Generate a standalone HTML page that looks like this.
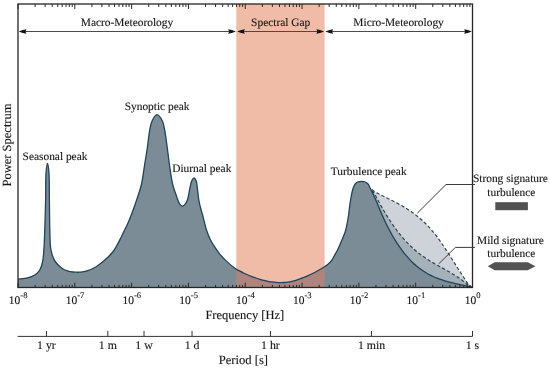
<!DOCTYPE html>
<html><head><meta charset="utf-8"><style>
html,body{margin:0;padding:0;background:#fff;}
svg{display:block;}
text{text-rendering:geometricPrecision;font-family:"Liberation Serif","Times New Roman",serif;fill:#161616;stroke:#161616;stroke-width:0.12px;}
.tl{font-size:11.5px;}
.pl{font-size:11.8px;}
.lab{font-size:11.4px;}
</style></head><body>
<svg width="550" height="370" viewBox="0 0 550 370">
<defs><clipPath id="gap"><rect x="236.3" y="0" width="88.30" height="370"/></clipPath></defs>
<rect x="236.3" y="4.0" width="88.30" height="283.5" fill="#f0bca8"/>
<path d="M371.80,189.60 C372.87,190.38 373.93,191.27 375.00,191.94 C375.99,192.56 377.00,193.00 378.00,193.52 C379.00,194.04 380.00,194.55 381.00,195.06 C382.00,195.56 383.00,196.06 384.00,196.56 C385.00,197.05 386.00,197.55 387.00,198.04 C388.00,198.53 389.00,199.03 390.00,199.52 C391.00,200.02 392.00,200.52 393.00,201.03 C394.00,201.54 395.00,202.05 396.00,202.57 C397.00,203.09 398.00,203.62 399.00,204.17 C400.00,204.71 401.00,205.27 402.00,205.84 C403.00,206.41 404.00,207.00 405.00,207.60 C406.00,208.21 407.00,208.83 408.00,209.47 C409.00,210.12 410.01,210.79 411.00,211.47 C412.01,212.17 413.01,212.88 414.00,213.62 C415.01,214.37 416.01,215.14 417.00,215.93 C418.01,216.74 419.01,217.57 420.00,218.43 C421.01,219.30 422.01,220.20 423.00,221.12 C424.01,222.07 425.01,223.04 426.00,224.04 C427.01,225.06 428.01,226.11 429.00,227.19 C430.01,228.29 431.01,229.43 432.00,230.59 C433.01,231.79 434.01,233.01 435.00,234.27 C436.01,235.56 437.01,236.88 438.00,238.22 C439.01,239.59 440.01,240.99 441.00,242.41 C442.01,243.85 443.01,245.31 444.00,246.79 C445.01,248.28 446.00,249.80 447.00,251.32 C448.00,252.86 449.00,254.41 450.00,255.96 C451.00,257.53 452.00,259.10 453.00,260.68 C454.00,262.25 455.00,263.84 456.00,265.42 C457.00,266.99 458.00,268.57 459.00,270.14 C460.00,271.70 461.00,273.26 462.00,274.81 C463.00,276.34 463.99,277.87 465.00,279.38 C465.99,280.87 466.92,282.50 468.00,283.81 C469.00,285.02 470.13,285.94 471.20,287.00 L372,287.5 Z" fill="#ced3da"/>
<path d="M372.20,190.40 C373.29,192.11 374.45,193.76 375.48,195.53 C376.54,197.35 377.46,199.34 378.47,201.21 C379.45,203.03 380.45,204.84 381.45,206.61 C382.44,208.35 383.43,210.07 384.44,211.75 C385.42,213.40 386.42,215.03 387.42,216.63 C388.41,218.20 389.40,219.74 390.41,221.25 C391.39,222.74 392.39,224.20 393.39,225.63 C394.38,227.03 395.37,228.40 396.38,229.75 C397.36,231.07 398.35,232.36 399.36,233.63 C400.34,234.87 401.34,236.09 402.34,237.27 C403.33,238.43 404.32,239.57 405.33,240.67 C406.31,241.76 407.31,242.82 408.31,243.85 C409.30,244.86 410.29,245.84 411.30,246.79 C412.28,247.73 413.28,248.64 414.28,249.52 C415.27,250.38 416.26,251.22 417.27,252.03 C418.25,252.83 419.25,253.60 420.25,254.36 C421.24,255.10 422.23,255.82 423.23,256.52 C424.22,257.21 425.22,257.88 426.22,258.54 C427.21,259.19 428.20,259.82 429.20,260.44 C430.19,261.06 431.19,261.65 432.19,262.25 C433.18,262.84 434.18,263.41 435.17,263.98 C436.16,264.55 437.16,265.11 438.16,265.67 C439.15,266.22 440.15,266.77 441.14,267.33 C442.14,267.88 443.13,268.43 444.12,268.99 C445.12,269.54 446.12,270.10 447.11,270.67 C448.11,271.23 449.10,271.80 450.09,272.39 C451.09,272.98 452.09,273.57 453.08,274.18 C454.08,274.79 455.07,275.42 456.06,276.06 C457.06,276.71 458.06,277.37 459.05,278.05 C460.05,278.74 461.04,279.45 462.03,280.18 C463.03,280.92 464.03,281.68 465.02,282.47 C466.02,283.27 466.96,284.19 468.00,284.94 C469.03,285.69 470.13,286.31 471.20,287.00 L372,287.5 Z" fill="#a5b1b9"/>
<path d="M18.00,279.20 C20.27,278.93 22.56,278.83 24.80,278.40 C27.06,277.97 29.43,277.44 31.50,276.60 C33.45,275.81 35.42,274.90 36.90,273.60 C38.33,272.35 39.41,270.71 40.30,269.00 C41.24,267.20 41.79,265.10 42.30,263.00 C42.84,260.78 43.09,258.82 43.40,256.00 C43.86,251.76 44.10,246.54 44.40,240.00 C44.88,229.67 45.31,212.15 45.60,200.00 C45.84,189.84 45.50,178.64 46.10,172.00 C46.43,168.30 47.03,163.40 47.50,163.40 C47.97,163.40 48.57,168.30 48.90,172.00 C49.50,178.64 49.25,190.51 49.40,200.00 C49.55,209.83 49.58,221.59 49.80,230.00 C49.96,236.10 50.04,241.92 50.40,245.80 C50.61,248.08 50.81,249.41 51.20,251.20 C51.60,253.01 52.10,254.83 52.80,256.60 C53.52,258.43 54.34,260.37 55.50,262.00 C56.67,263.64 58.27,265.10 59.80,266.40 C61.28,267.66 63.07,268.97 64.50,269.72 C65.56,270.28 66.48,270.50 67.47,270.81 C68.46,271.10 69.45,271.34 70.45,271.54 C71.44,271.73 72.43,271.88 73.42,271.99 C74.41,272.11 75.41,272.18 76.40,272.21 C77.39,272.24 78.38,272.23 79.38,272.17 C80.37,272.11 81.36,272.01 82.35,271.86 C83.35,271.71 84.34,271.52 85.33,271.28 C86.32,271.03 87.32,270.74 88.30,270.40 C89.30,270.06 90.29,269.66 91.28,269.23 C92.28,268.78 93.27,268.28 94.25,267.73 C95.25,267.18 96.25,266.57 97.22,265.92 C98.23,265.25 99.22,264.52 100.20,263.78 C101.20,263.02 102.19,262.21 103.18,261.39 C104.17,260.56 105.17,259.71 106.15,258.83 C107.15,257.94 108.15,257.05 109.12,256.06 C110.14,255.02 111.14,253.94 112.10,252.75 C113.13,251.46 114.12,250.04 115.08,248.55 C116.11,246.94 117.08,245.17 118.05,243.37 C119.07,241.48 120.04,239.45 121.03,237.44 C122.03,235.38 122.99,233.25 124.00,231.18 C125.01,229.10 125.98,227.46 127.10,225.00 C128.69,221.49 130.72,216.44 132.40,212.00 C134.13,207.44 135.79,202.59 137.30,198.00 C138.75,193.60 140.16,189.84 141.30,185.00 C142.69,179.09 143.56,171.40 144.60,165.00 C145.55,159.10 146.45,153.78 147.30,148.00 C148.19,141.99 148.80,134.56 149.80,129.60 C150.49,126.17 150.84,123.53 152.10,121.00 C153.29,118.60 155.30,114.74 157.00,114.70 C158.73,114.66 161.14,118.57 162.40,121.00 C163.71,123.51 163.91,126.17 164.60,129.60 C165.60,134.56 166.47,141.98 167.30,148.00 C168.10,153.78 168.63,159.11 169.50,165.00 C170.44,171.40 171.47,179.64 172.80,185.00 C173.72,188.73 174.94,191.46 175.90,194.30 C176.72,196.72 177.37,199.14 178.20,201.00 C178.83,202.42 179.37,203.73 180.20,204.60 C180.89,205.32 181.80,206.12 182.60,206.10 C183.43,206.08 184.37,205.22 185.10,204.40 C186.04,203.35 186.72,201.88 187.40,200.00 C188.45,197.07 189.12,191.60 189.90,188.20 C190.50,185.59 190.76,183.14 191.60,181.30 C192.24,179.89 193.22,177.90 194.00,177.90 C194.75,177.90 195.69,179.78 196.20,181.00 C196.79,182.41 196.85,184.33 197.10,186.00 C197.35,187.66 197.49,189.26 197.70,191.00 C197.93,192.91 198.14,195.09 198.40,197.00 C198.64,198.75 198.86,200.26 199.20,202.00 C199.58,203.92 200.06,205.93 200.60,208.00 C201.18,210.25 201.98,212.66 202.60,215.00 C203.21,217.33 203.65,219.51 204.30,222.00 C205.05,224.86 205.88,228.24 206.90,231.20 C207.89,234.07 208.96,236.82 210.30,239.50 C211.66,242.22 213.35,244.89 215.00,247.40 C216.59,249.82 218.22,252.12 220.00,254.30 C221.76,256.45 223.40,258.30 225.60,260.40 C228.32,263.00 232.57,266.61 235.30,268.50 C237.08,269.73 238.49,270.34 240.00,271.15 C241.38,271.90 242.66,272.57 244.00,273.22 C245.32,273.85 246.66,274.43 248.00,274.99 C249.33,275.54 250.66,276.05 252.00,276.55 C253.33,277.05 254.66,277.53 256.00,277.99 C257.33,278.44 258.66,278.87 260.00,279.27 C261.33,279.66 262.66,280.04 264.00,280.37 C265.33,280.71 266.66,281.02 268.00,281.29 C269.33,281.55 270.66,281.79 272.00,281.98 C273.33,282.17 274.66,282.32 276.00,282.43 C277.33,282.54 278.67,282.60 280.00,282.62 C281.33,282.63 282.67,282.60 284.00,282.52 C285.33,282.43 286.67,282.30 288.00,282.10 C289.34,281.91 290.67,281.66 292.00,281.36 C293.34,281.06 294.67,280.70 296.00,280.30 C297.34,279.90 298.67,279.44 300.00,278.96 C301.34,278.48 302.67,277.95 304.00,277.40 C305.34,276.84 306.67,276.25 308.00,275.65 C309.34,275.04 310.67,274.42 312.00,273.77 C313.34,273.12 314.67,272.46 316.00,271.76 C317.34,271.06 318.68,270.33 320.00,269.55 C321.34,268.76 322.68,267.94 324.00,267.05 C325.35,266.14 326.74,265.24 328.00,264.16 C329.28,263.06 330.52,261.92 331.60,260.50 C332.78,258.94 333.70,256.88 334.70,255.10 C335.67,253.38 336.63,251.73 337.50,250.00 C338.37,248.27 339.06,246.61 339.90,244.70 C340.88,242.49 342.02,239.95 343.00,237.50 C343.99,235.01 345.07,232.49 345.80,229.90 C346.53,227.32 346.92,224.56 347.40,222.00 C347.85,219.60 348.23,217.55 348.60,215.00 C349.04,211.97 349.34,208.18 349.80,205.00 C350.22,202.07 350.70,199.23 351.20,196.60 C351.64,194.26 352.07,191.85 352.60,190.00 C353.00,188.60 353.38,187.51 353.90,186.40 C354.39,185.36 354.86,184.26 355.60,183.50 C356.31,182.78 357.22,182.25 358.20,181.90 C359.27,181.52 360.62,181.38 361.80,181.40 C362.95,181.42 364.18,181.58 365.20,182.00 C366.17,182.40 367.06,183.00 367.80,183.80 C368.63,184.69 369.21,186.06 369.80,187.20 C370.37,188.29 370.73,189.32 371.30,190.50 C371.97,191.89 372.74,193.18 373.60,195.00 C374.87,197.71 376.62,202.03 378.00,205.27 C379.23,208.18 380.30,210.86 381.48,213.57 C382.62,216.18 383.78,218.73 384.96,221.22 C386.10,223.62 387.26,225.97 388.44,228.25 C389.58,230.46 390.74,232.61 391.92,234.70 C393.06,236.72 394.22,238.68 395.40,240.59 C396.55,242.43 397.70,244.21 398.88,245.94 C400.03,247.62 401.19,249.24 402.37,250.80 C403.51,252.31 404.67,253.78 405.85,255.19 C406.99,256.55 408.15,257.87 409.33,259.13 C410.47,260.36 411.63,261.53 412.81,262.66 C413.95,263.75 415.11,264.80 416.29,265.80 C417.43,266.78 418.60,267.71 419.77,268.59 C420.92,269.46 422.08,270.28 423.25,271.05 C424.40,271.82 425.56,272.54 426.73,273.22 C427.88,273.89 429.04,274.52 430.21,275.11 C431.36,275.70 432.53,276.25 433.69,276.77 C434.85,277.28 436.01,277.76 437.17,278.21 C438.33,278.66 439.49,279.08 440.65,279.47 C441.81,279.87 442.97,280.23 444.13,280.58 C445.29,280.93 446.45,281.25 447.62,281.57 C448.77,281.88 449.93,282.17 451.10,282.46 C452.26,282.74 453.42,283.01 454.58,283.28 C455.74,283.55 456.90,283.81 458.06,284.07 C459.22,284.33 460.38,284.58 461.54,284.85 C462.70,285.11 463.86,285.37 465.02,285.65 C466.18,285.92 467.30,286.24 468.50,286.50 C469.78,286.77 471.17,286.97 472.50,287.20 L472.5,287.5 L18,287.5 Z" fill="#7b8c96"/>
<path d="M18.00,279.20 C20.27,278.93 22.56,278.83 24.80,278.40 C27.06,277.97 29.43,277.44 31.50,276.60 C33.45,275.81 35.42,274.90 36.90,273.60 C38.33,272.35 39.41,270.71 40.30,269.00 C41.24,267.20 41.79,265.10 42.30,263.00 C42.84,260.78 43.09,258.82 43.40,256.00 C43.86,251.76 44.10,246.54 44.40,240.00 C44.88,229.67 45.31,212.15 45.60,200.00 C45.84,189.84 45.50,178.64 46.10,172.00 C46.43,168.30 47.03,163.40 47.50,163.40 C47.97,163.40 48.57,168.30 48.90,172.00 C49.50,178.64 49.25,190.51 49.40,200.00 C49.55,209.83 49.58,221.59 49.80,230.00 C49.96,236.10 50.04,241.92 50.40,245.80 C50.61,248.08 50.81,249.41 51.20,251.20 C51.60,253.01 52.10,254.83 52.80,256.60 C53.52,258.43 54.34,260.37 55.50,262.00 C56.67,263.64 58.27,265.10 59.80,266.40 C61.28,267.66 63.07,268.97 64.50,269.72 C65.56,270.28 66.48,270.50 67.47,270.81 C68.46,271.10 69.45,271.34 70.45,271.54 C71.44,271.73 72.43,271.88 73.42,271.99 C74.41,272.11 75.41,272.18 76.40,272.21 C77.39,272.24 78.38,272.23 79.38,272.17 C80.37,272.11 81.36,272.01 82.35,271.86 C83.35,271.71 84.34,271.52 85.33,271.28 C86.32,271.03 87.32,270.74 88.30,270.40 C89.30,270.06 90.29,269.66 91.28,269.23 C92.28,268.78 93.27,268.28 94.25,267.73 C95.25,267.18 96.25,266.57 97.22,265.92 C98.23,265.25 99.22,264.52 100.20,263.78 C101.20,263.02 102.19,262.21 103.18,261.39 C104.17,260.56 105.17,259.71 106.15,258.83 C107.15,257.94 108.15,257.05 109.12,256.06 C110.14,255.02 111.14,253.94 112.10,252.75 C113.13,251.46 114.12,250.04 115.08,248.55 C116.11,246.94 117.08,245.17 118.05,243.37 C119.07,241.48 120.04,239.45 121.03,237.44 C122.03,235.38 122.99,233.25 124.00,231.18 C125.01,229.10 125.98,227.46 127.10,225.00 C128.69,221.49 130.72,216.44 132.40,212.00 C134.13,207.44 135.79,202.59 137.30,198.00 C138.75,193.60 140.16,189.84 141.30,185.00 C142.69,179.09 143.56,171.40 144.60,165.00 C145.55,159.10 146.45,153.78 147.30,148.00 C148.19,141.99 148.80,134.56 149.80,129.60 C150.49,126.17 150.84,123.53 152.10,121.00 C153.29,118.60 155.30,114.74 157.00,114.70 C158.73,114.66 161.14,118.57 162.40,121.00 C163.71,123.51 163.91,126.17 164.60,129.60 C165.60,134.56 166.47,141.98 167.30,148.00 C168.10,153.78 168.63,159.11 169.50,165.00 C170.44,171.40 171.47,179.64 172.80,185.00 C173.72,188.73 174.94,191.46 175.90,194.30 C176.72,196.72 177.37,199.14 178.20,201.00 C178.83,202.42 179.37,203.73 180.20,204.60 C180.89,205.32 181.80,206.12 182.60,206.10 C183.43,206.08 184.37,205.22 185.10,204.40 C186.04,203.35 186.72,201.88 187.40,200.00 C188.45,197.07 189.12,191.60 189.90,188.20 C190.50,185.59 190.76,183.14 191.60,181.30 C192.24,179.89 193.22,177.90 194.00,177.90 C194.75,177.90 195.69,179.78 196.20,181.00 C196.79,182.41 196.85,184.33 197.10,186.00 C197.35,187.66 197.49,189.26 197.70,191.00 C197.93,192.91 198.14,195.09 198.40,197.00 C198.64,198.75 198.86,200.26 199.20,202.00 C199.58,203.92 200.06,205.93 200.60,208.00 C201.18,210.25 201.98,212.66 202.60,215.00 C203.21,217.33 203.65,219.51 204.30,222.00 C205.05,224.86 205.88,228.24 206.90,231.20 C207.89,234.07 208.96,236.82 210.30,239.50 C211.66,242.22 213.35,244.89 215.00,247.40 C216.59,249.82 218.22,252.12 220.00,254.30 C221.76,256.45 223.40,258.30 225.60,260.40 C228.32,263.00 232.57,266.61 235.30,268.50 C237.08,269.73 238.49,270.34 240.00,271.15 C241.38,271.90 242.66,272.57 244.00,273.22 C245.32,273.85 246.66,274.43 248.00,274.99 C249.33,275.54 250.66,276.05 252.00,276.55 C253.33,277.05 254.66,277.53 256.00,277.99 C257.33,278.44 258.66,278.87 260.00,279.27 C261.33,279.66 262.66,280.04 264.00,280.37 C265.33,280.71 266.66,281.02 268.00,281.29 C269.33,281.55 270.66,281.79 272.00,281.98 C273.33,282.17 274.66,282.32 276.00,282.43 C277.33,282.54 278.67,282.60 280.00,282.62 C281.33,282.63 282.67,282.60 284.00,282.52 C285.33,282.43 286.67,282.30 288.00,282.10 C289.34,281.91 290.67,281.66 292.00,281.36 C293.34,281.06 294.67,280.70 296.00,280.30 C297.34,279.90 298.67,279.44 300.00,278.96 C301.34,278.48 302.67,277.95 304.00,277.40 C305.34,276.84 306.67,276.25 308.00,275.65 C309.34,275.04 310.67,274.42 312.00,273.77 C313.34,273.12 314.67,272.46 316.00,271.76 C317.34,271.06 318.68,270.33 320.00,269.55 C321.34,268.76 322.68,267.94 324.00,267.05 C325.35,266.14 326.74,265.24 328.00,264.16 C329.28,263.06 330.52,261.92 331.60,260.50 C332.78,258.94 333.70,256.88 334.70,255.10 C335.67,253.38 336.63,251.73 337.50,250.00 C338.37,248.27 339.06,246.61 339.90,244.70 C340.88,242.49 342.02,239.95 343.00,237.50 C343.99,235.01 345.07,232.49 345.80,229.90 C346.53,227.32 346.92,224.56 347.40,222.00 C347.85,219.60 348.23,217.55 348.60,215.00 C349.04,211.97 349.34,208.18 349.80,205.00 C350.22,202.07 350.70,199.23 351.20,196.60 C351.64,194.26 352.07,191.85 352.60,190.00 C353.00,188.60 353.38,187.51 353.90,186.40 C354.39,185.36 354.86,184.26 355.60,183.50 C356.31,182.78 357.22,182.25 358.20,181.90 C359.27,181.52 360.62,181.38 361.80,181.40 C362.95,181.42 364.18,181.58 365.20,182.00 C366.17,182.40 367.06,183.00 367.80,183.80 C368.63,184.69 369.21,186.06 369.80,187.20 C370.37,188.29 370.73,189.32 371.30,190.50 C371.97,191.89 372.74,193.18 373.60,195.00 C374.87,197.71 376.62,202.03 378.00,205.27 C379.23,208.18 380.30,210.86 381.48,213.57 C382.62,216.18 383.78,218.73 384.96,221.22 C386.10,223.62 387.26,225.97 388.44,228.25 C389.58,230.46 390.74,232.61 391.92,234.70 C393.06,236.72 394.22,238.68 395.40,240.59 C396.55,242.43 397.70,244.21 398.88,245.94 C400.03,247.62 401.19,249.24 402.37,250.80 C403.51,252.31 404.67,253.78 405.85,255.19 C406.99,256.55 408.15,257.87 409.33,259.13 C410.47,260.36 411.63,261.53 412.81,262.66 C413.95,263.75 415.11,264.80 416.29,265.80 C417.43,266.78 418.60,267.71 419.77,268.59 C420.92,269.46 422.08,270.28 423.25,271.05 C424.40,271.82 425.56,272.54 426.73,273.22 C427.88,273.89 429.04,274.52 430.21,275.11 C431.36,275.70 432.53,276.25 433.69,276.77 C434.85,277.28 436.01,277.76 437.17,278.21 C438.33,278.66 439.49,279.08 440.65,279.47 C441.81,279.87 442.97,280.23 444.13,280.58 C445.29,280.93 446.45,281.25 447.62,281.57 C448.77,281.88 449.93,282.17 451.10,282.46 C452.26,282.74 453.42,283.01 454.58,283.28 C455.74,283.55 456.90,283.81 458.06,284.07 C459.22,284.33 460.38,284.58 461.54,284.85 C462.70,285.11 463.86,285.37 465.02,285.65 C466.18,285.92 467.30,286.24 468.50,286.50 C469.78,286.77 471.17,286.97 472.50,287.20 L472.5,287.5 L18,287.5 Z" fill="#ad857e" clip-path="url(#gap)"/>
<path d="M371.80,189.60 C372.87,190.38 373.93,191.27 375.00,191.94 C375.99,192.56 377.00,193.00 378.00,193.52 C379.00,194.04 380.00,194.55 381.00,195.06 C382.00,195.56 383.00,196.06 384.00,196.56 C385.00,197.05 386.00,197.55 387.00,198.04 C388.00,198.53 389.00,199.03 390.00,199.52 C391.00,200.02 392.00,200.52 393.00,201.03 C394.00,201.54 395.00,202.05 396.00,202.57 C397.00,203.09 398.00,203.62 399.00,204.17 C400.00,204.71 401.00,205.27 402.00,205.84 C403.00,206.41 404.00,207.00 405.00,207.60 C406.00,208.21 407.00,208.83 408.00,209.47 C409.00,210.12 410.01,210.79 411.00,211.47 C412.01,212.17 413.01,212.88 414.00,213.62 C415.01,214.37 416.01,215.14 417.00,215.93 C418.01,216.74 419.01,217.57 420.00,218.43 C421.01,219.30 422.01,220.20 423.00,221.12 C424.01,222.07 425.01,223.04 426.00,224.04 C427.01,225.06 428.01,226.11 429.00,227.19 C430.01,228.29 431.01,229.43 432.00,230.59 C433.01,231.79 434.01,233.01 435.00,234.27 C436.01,235.56 437.01,236.88 438.00,238.22 C439.01,239.59 440.01,240.99 441.00,242.41 C442.01,243.85 443.01,245.31 444.00,246.79 C445.01,248.28 446.00,249.80 447.00,251.32 C448.00,252.86 449.00,254.41 450.00,255.96 C451.00,257.53 452.00,259.10 453.00,260.68 C454.00,262.25 455.00,263.84 456.00,265.42 C457.00,266.99 458.00,268.57 459.00,270.14 C460.00,271.70 461.00,273.26 462.00,274.81 C463.00,276.34 463.99,277.87 465.00,279.38 C465.99,280.87 466.92,282.50 468.00,283.81 C469.00,285.02 470.13,285.94 471.20,287.00" fill="none" stroke="#354652" stroke-width="1.2" stroke-dasharray="3.4,2.2"/>
<path d="M372.20,190.40 C373.29,192.11 374.45,193.76 375.48,195.53 C376.54,197.35 377.46,199.34 378.47,201.21 C379.45,203.03 380.45,204.84 381.45,206.61 C382.44,208.35 383.43,210.07 384.44,211.75 C385.42,213.40 386.42,215.03 387.42,216.63 C388.41,218.20 389.40,219.74 390.41,221.25 C391.39,222.74 392.39,224.20 393.39,225.63 C394.38,227.03 395.37,228.40 396.38,229.75 C397.36,231.07 398.35,232.36 399.36,233.63 C400.34,234.87 401.34,236.09 402.34,237.27 C403.33,238.43 404.32,239.57 405.33,240.67 C406.31,241.76 407.31,242.82 408.31,243.85 C409.30,244.86 410.29,245.84 411.30,246.79 C412.28,247.73 413.28,248.64 414.28,249.52 C415.27,250.38 416.26,251.22 417.27,252.03 C418.25,252.83 419.25,253.60 420.25,254.36 C421.24,255.10 422.23,255.82 423.23,256.52 C424.22,257.21 425.22,257.88 426.22,258.54 C427.21,259.19 428.20,259.82 429.20,260.44 C430.19,261.06 431.19,261.65 432.19,262.25 C433.18,262.84 434.18,263.41 435.17,263.98 C436.16,264.55 437.16,265.11 438.16,265.67 C439.15,266.22 440.15,266.77 441.14,267.33 C442.14,267.88 443.13,268.43 444.12,268.99 C445.12,269.54 446.12,270.10 447.11,270.67 C448.11,271.23 449.10,271.80 450.09,272.39 C451.09,272.98 452.09,273.57 453.08,274.18 C454.08,274.79 455.07,275.42 456.06,276.06 C457.06,276.71 458.06,277.37 459.05,278.05 C460.05,278.74 461.04,279.45 462.03,280.18 C463.03,280.92 464.03,281.68 465.02,282.47 C466.02,283.27 466.96,284.19 468.00,284.94 C469.03,285.69 470.13,286.31 471.20,287.00" fill="none" stroke="#354652" stroke-width="1.2" stroke-dasharray="3.4,2.2"/>
<path d="M18.00,279.20 C20.27,278.93 22.56,278.83 24.80,278.40 C27.06,277.97 29.43,277.44 31.50,276.60 C33.45,275.81 35.42,274.90 36.90,273.60 C38.33,272.35 39.41,270.71 40.30,269.00 C41.24,267.20 41.79,265.10 42.30,263.00 C42.84,260.78 43.09,258.82 43.40,256.00 C43.86,251.76 44.10,246.54 44.40,240.00 C44.88,229.67 45.31,212.15 45.60,200.00 C45.84,189.84 45.50,178.64 46.10,172.00 C46.43,168.30 47.03,163.40 47.50,163.40 C47.97,163.40 48.57,168.30 48.90,172.00 C49.50,178.64 49.25,190.51 49.40,200.00 C49.55,209.83 49.58,221.59 49.80,230.00 C49.96,236.10 50.04,241.92 50.40,245.80 C50.61,248.08 50.81,249.41 51.20,251.20 C51.60,253.01 52.10,254.83 52.80,256.60 C53.52,258.43 54.34,260.37 55.50,262.00 C56.67,263.64 58.27,265.10 59.80,266.40 C61.28,267.66 63.07,268.97 64.50,269.72 C65.56,270.28 66.48,270.50 67.47,270.81 C68.46,271.10 69.45,271.34 70.45,271.54 C71.44,271.73 72.43,271.88 73.42,271.99 C74.41,272.11 75.41,272.18 76.40,272.21 C77.39,272.24 78.38,272.23 79.38,272.17 C80.37,272.11 81.36,272.01 82.35,271.86 C83.35,271.71 84.34,271.52 85.33,271.28 C86.32,271.03 87.32,270.74 88.30,270.40 C89.30,270.06 90.29,269.66 91.28,269.23 C92.28,268.78 93.27,268.28 94.25,267.73 C95.25,267.18 96.25,266.57 97.22,265.92 C98.23,265.25 99.22,264.52 100.20,263.78 C101.20,263.02 102.19,262.21 103.18,261.39 C104.17,260.56 105.17,259.71 106.15,258.83 C107.15,257.94 108.15,257.05 109.12,256.06 C110.14,255.02 111.14,253.94 112.10,252.75 C113.13,251.46 114.12,250.04 115.08,248.55 C116.11,246.94 117.08,245.17 118.05,243.37 C119.07,241.48 120.04,239.45 121.03,237.44 C122.03,235.38 122.99,233.25 124.00,231.18 C125.01,229.10 125.98,227.46 127.10,225.00 C128.69,221.49 130.72,216.44 132.40,212.00 C134.13,207.44 135.79,202.59 137.30,198.00 C138.75,193.60 140.16,189.84 141.30,185.00 C142.69,179.09 143.56,171.40 144.60,165.00 C145.55,159.10 146.45,153.78 147.30,148.00 C148.19,141.99 148.80,134.56 149.80,129.60 C150.49,126.17 150.84,123.53 152.10,121.00 C153.29,118.60 155.30,114.74 157.00,114.70 C158.73,114.66 161.14,118.57 162.40,121.00 C163.71,123.51 163.91,126.17 164.60,129.60 C165.60,134.56 166.47,141.98 167.30,148.00 C168.10,153.78 168.63,159.11 169.50,165.00 C170.44,171.40 171.47,179.64 172.80,185.00 C173.72,188.73 174.94,191.46 175.90,194.30 C176.72,196.72 177.37,199.14 178.20,201.00 C178.83,202.42 179.37,203.73 180.20,204.60 C180.89,205.32 181.80,206.12 182.60,206.10 C183.43,206.08 184.37,205.22 185.10,204.40 C186.04,203.35 186.72,201.88 187.40,200.00 C188.45,197.07 189.12,191.60 189.90,188.20 C190.50,185.59 190.76,183.14 191.60,181.30 C192.24,179.89 193.22,177.90 194.00,177.90 C194.75,177.90 195.69,179.78 196.20,181.00 C196.79,182.41 196.85,184.33 197.10,186.00 C197.35,187.66 197.49,189.26 197.70,191.00 C197.93,192.91 198.14,195.09 198.40,197.00 C198.64,198.75 198.86,200.26 199.20,202.00 C199.58,203.92 200.06,205.93 200.60,208.00 C201.18,210.25 201.98,212.66 202.60,215.00 C203.21,217.33 203.65,219.51 204.30,222.00 C205.05,224.86 205.88,228.24 206.90,231.20 C207.89,234.07 208.96,236.82 210.30,239.50 C211.66,242.22 213.35,244.89 215.00,247.40 C216.59,249.82 218.22,252.12 220.00,254.30 C221.76,256.45 223.40,258.30 225.60,260.40 C228.32,263.00 232.57,266.61 235.30,268.50 C237.08,269.73 238.49,270.34 240.00,271.15 C241.38,271.90 242.66,272.57 244.00,273.22 C245.32,273.85 246.66,274.43 248.00,274.99 C249.33,275.54 250.66,276.05 252.00,276.55 C253.33,277.05 254.66,277.53 256.00,277.99 C257.33,278.44 258.66,278.87 260.00,279.27 C261.33,279.66 262.66,280.04 264.00,280.37 C265.33,280.71 266.66,281.02 268.00,281.29 C269.33,281.55 270.66,281.79 272.00,281.98 C273.33,282.17 274.66,282.32 276.00,282.43 C277.33,282.54 278.67,282.60 280.00,282.62 C281.33,282.63 282.67,282.60 284.00,282.52 C285.33,282.43 286.67,282.30 288.00,282.10 C289.34,281.91 290.67,281.66 292.00,281.36 C293.34,281.06 294.67,280.70 296.00,280.30 C297.34,279.90 298.67,279.44 300.00,278.96 C301.34,278.48 302.67,277.95 304.00,277.40 C305.34,276.84 306.67,276.25 308.00,275.65 C309.34,275.04 310.67,274.42 312.00,273.77 C313.34,273.12 314.67,272.46 316.00,271.76 C317.34,271.06 318.68,270.33 320.00,269.55 C321.34,268.76 322.68,267.94 324.00,267.05 C325.35,266.14 326.74,265.24 328.00,264.16 C329.28,263.06 330.52,261.92 331.60,260.50 C332.78,258.94 333.70,256.88 334.70,255.10 C335.67,253.38 336.63,251.73 337.50,250.00 C338.37,248.27 339.06,246.61 339.90,244.70 C340.88,242.49 342.02,239.95 343.00,237.50 C343.99,235.01 345.07,232.49 345.80,229.90 C346.53,227.32 346.92,224.56 347.40,222.00 C347.85,219.60 348.23,217.55 348.60,215.00 C349.04,211.97 349.34,208.18 349.80,205.00 C350.22,202.07 350.70,199.23 351.20,196.60 C351.64,194.26 352.07,191.85 352.60,190.00 C353.00,188.60 353.38,187.51 353.90,186.40 C354.39,185.36 354.86,184.26 355.60,183.50 C356.31,182.78 357.22,182.25 358.20,181.90 C359.27,181.52 360.62,181.38 361.80,181.40 C362.95,181.42 364.18,181.58 365.20,182.00 C366.17,182.40 367.06,183.00 367.80,183.80 C368.63,184.69 369.21,186.06 369.80,187.20 C370.37,188.29 370.73,189.32 371.30,190.50 C371.97,191.89 372.74,193.18 373.60,195.00 C374.87,197.71 376.62,202.03 378.00,205.27 C379.23,208.18 380.30,210.86 381.48,213.57 C382.62,216.18 383.78,218.73 384.96,221.22 C386.10,223.62 387.26,225.97 388.44,228.25 C389.58,230.46 390.74,232.61 391.92,234.70 C393.06,236.72 394.22,238.68 395.40,240.59 C396.55,242.43 397.70,244.21 398.88,245.94 C400.03,247.62 401.19,249.24 402.37,250.80 C403.51,252.31 404.67,253.78 405.85,255.19 C406.99,256.55 408.15,257.87 409.33,259.13 C410.47,260.36 411.63,261.53 412.81,262.66 C413.95,263.75 415.11,264.80 416.29,265.80 C417.43,266.78 418.60,267.71 419.77,268.59 C420.92,269.46 422.08,270.28 423.25,271.05 C424.40,271.82 425.56,272.54 426.73,273.22 C427.88,273.89 429.04,274.52 430.21,275.11 C431.36,275.70 432.53,276.25 433.69,276.77 C434.85,277.28 436.01,277.76 437.17,278.21 C438.33,278.66 439.49,279.08 440.65,279.47 C441.81,279.87 442.97,280.23 444.13,280.58 C445.29,280.93 446.45,281.25 447.62,281.57 C448.77,281.88 449.93,282.17 451.10,282.46 C452.26,282.74 453.42,283.01 454.58,283.28 C455.74,283.55 456.90,283.81 458.06,284.07 C459.22,284.33 460.38,284.58 461.54,284.85 C462.70,285.11 463.86,285.37 465.02,285.65 C466.18,285.92 467.30,286.24 468.50,286.50 C469.78,286.77 471.17,286.97 472.50,287.20" fill="none" stroke="#1f4459" stroke-width="1.3" stroke-linejoin="round"/>
<g stroke="#2a2a2a" stroke-width="1"><line x1="18.00" y1="287.5" x2="18.00" y2="282.7"/><line x1="18.00" y1="4.0" x2="18.00" y2="9.0"/><line x1="35.10" y1="287.5" x2="35.10" y2="284.9"/><line x1="35.10" y1="4.0" x2="35.10" y2="7.0"/><line x1="45.11" y1="287.5" x2="45.11" y2="284.9"/><line x1="45.11" y1="4.0" x2="45.11" y2="7.0"/><line x1="52.20" y1="287.5" x2="52.20" y2="284.9"/><line x1="52.20" y1="4.0" x2="52.20" y2="7.0"/><line x1="57.71" y1="287.5" x2="57.71" y2="284.9"/><line x1="57.71" y1="4.0" x2="57.71" y2="7.0"/><line x1="62.21" y1="287.5" x2="62.21" y2="284.9"/><line x1="62.21" y1="4.0" x2="62.21" y2="7.0"/><line x1="66.01" y1="287.5" x2="66.01" y2="284.9"/><line x1="66.01" y1="4.0" x2="66.01" y2="7.0"/><line x1="69.31" y1="287.5" x2="69.31" y2="284.9"/><line x1="69.31" y1="4.0" x2="69.31" y2="7.0"/><line x1="72.21" y1="287.5" x2="72.21" y2="284.9"/><line x1="72.21" y1="4.0" x2="72.21" y2="7.0"/><line x1="74.81" y1="287.5" x2="74.81" y2="282.7"/><line x1="74.81" y1="4.0" x2="74.81" y2="9.0"/><line x1="91.91" y1="287.5" x2="91.91" y2="284.9"/><line x1="91.91" y1="4.0" x2="91.91" y2="7.0"/><line x1="101.92" y1="287.5" x2="101.92" y2="284.9"/><line x1="101.92" y1="4.0" x2="101.92" y2="7.0"/><line x1="109.02" y1="287.5" x2="109.02" y2="284.9"/><line x1="109.02" y1="4.0" x2="109.02" y2="7.0"/><line x1="114.52" y1="287.5" x2="114.52" y2="284.9"/><line x1="114.52" y1="4.0" x2="114.52" y2="7.0"/><line x1="119.02" y1="287.5" x2="119.02" y2="284.9"/><line x1="119.02" y1="4.0" x2="119.02" y2="7.0"/><line x1="122.82" y1="287.5" x2="122.82" y2="284.9"/><line x1="122.82" y1="4.0" x2="122.82" y2="7.0"/><line x1="126.12" y1="287.5" x2="126.12" y2="284.9"/><line x1="126.12" y1="4.0" x2="126.12" y2="7.0"/><line x1="129.03" y1="287.5" x2="129.03" y2="284.9"/><line x1="129.03" y1="4.0" x2="129.03" y2="7.0"/><line x1="131.62" y1="287.5" x2="131.62" y2="282.7"/><line x1="131.62" y1="4.0" x2="131.62" y2="9.0"/><line x1="148.73" y1="287.5" x2="148.73" y2="284.9"/><line x1="148.73" y1="4.0" x2="148.73" y2="7.0"/><line x1="158.73" y1="287.5" x2="158.73" y2="284.9"/><line x1="158.73" y1="4.0" x2="158.73" y2="7.0"/><line x1="165.83" y1="287.5" x2="165.83" y2="284.9"/><line x1="165.83" y1="4.0" x2="165.83" y2="7.0"/><line x1="171.34" y1="287.5" x2="171.34" y2="284.9"/><line x1="171.34" y1="4.0" x2="171.34" y2="7.0"/><line x1="175.83" y1="287.5" x2="175.83" y2="284.9"/><line x1="175.83" y1="4.0" x2="175.83" y2="7.0"/><line x1="179.64" y1="287.5" x2="179.64" y2="284.9"/><line x1="179.64" y1="4.0" x2="179.64" y2="7.0"/><line x1="182.93" y1="287.5" x2="182.93" y2="284.9"/><line x1="182.93" y1="4.0" x2="182.93" y2="7.0"/><line x1="185.84" y1="287.5" x2="185.84" y2="284.9"/><line x1="185.84" y1="4.0" x2="185.84" y2="7.0"/><line x1="188.44" y1="287.5" x2="188.44" y2="282.7"/><line x1="188.44" y1="4.0" x2="188.44" y2="9.0"/><line x1="205.54" y1="287.5" x2="205.54" y2="284.9"/><line x1="205.54" y1="4.0" x2="205.54" y2="7.0"/><line x1="215.54" y1="287.5" x2="215.54" y2="284.9"/><line x1="215.54" y1="4.0" x2="215.54" y2="7.0"/><line x1="222.64" y1="287.5" x2="222.64" y2="284.9"/><line x1="222.64" y1="4.0" x2="222.64" y2="7.0"/><line x1="228.15" y1="287.5" x2="228.15" y2="284.9"/><line x1="228.15" y1="4.0" x2="228.15" y2="7.0"/><line x1="232.65" y1="287.5" x2="232.65" y2="284.9"/><line x1="232.65" y1="4.0" x2="232.65" y2="7.0"/><line x1="236.45" y1="287.5" x2="236.45" y2="284.9"/><line x1="236.45" y1="4.0" x2="236.45" y2="7.0"/><line x1="239.74" y1="287.5" x2="239.74" y2="284.9"/><line x1="239.74" y1="4.0" x2="239.74" y2="7.0"/><line x1="242.65" y1="287.5" x2="242.65" y2="284.9"/><line x1="242.65" y1="4.0" x2="242.65" y2="7.0"/><line x1="245.25" y1="287.5" x2="245.25" y2="282.7"/><line x1="245.25" y1="4.0" x2="245.25" y2="9.0"/><line x1="262.35" y1="287.5" x2="262.35" y2="284.9"/><line x1="262.35" y1="4.0" x2="262.35" y2="7.0"/><line x1="272.36" y1="287.5" x2="272.36" y2="284.9"/><line x1="272.36" y1="4.0" x2="272.36" y2="7.0"/><line x1="279.45" y1="287.5" x2="279.45" y2="284.9"/><line x1="279.45" y1="4.0" x2="279.45" y2="7.0"/><line x1="284.96" y1="287.5" x2="284.96" y2="284.9"/><line x1="284.96" y1="4.0" x2="284.96" y2="7.0"/><line x1="289.46" y1="287.5" x2="289.46" y2="284.9"/><line x1="289.46" y1="4.0" x2="289.46" y2="7.0"/><line x1="293.26" y1="287.5" x2="293.26" y2="284.9"/><line x1="293.26" y1="4.0" x2="293.26" y2="7.0"/><line x1="296.56" y1="287.5" x2="296.56" y2="284.9"/><line x1="296.56" y1="4.0" x2="296.56" y2="7.0"/><line x1="299.46" y1="287.5" x2="299.46" y2="284.9"/><line x1="299.46" y1="4.0" x2="299.46" y2="7.0"/><line x1="302.06" y1="287.5" x2="302.06" y2="282.7"/><line x1="302.06" y1="4.0" x2="302.06" y2="9.0"/><line x1="319.16" y1="287.5" x2="319.16" y2="284.9"/><line x1="319.16" y1="4.0" x2="319.16" y2="7.0"/><line x1="329.17" y1="287.5" x2="329.17" y2="284.9"/><line x1="329.17" y1="4.0" x2="329.17" y2="7.0"/><line x1="336.27" y1="287.5" x2="336.27" y2="284.9"/><line x1="336.27" y1="4.0" x2="336.27" y2="7.0"/><line x1="341.77" y1="287.5" x2="341.77" y2="284.9"/><line x1="341.77" y1="4.0" x2="341.77" y2="7.0"/><line x1="346.27" y1="287.5" x2="346.27" y2="284.9"/><line x1="346.27" y1="4.0" x2="346.27" y2="7.0"/><line x1="350.07" y1="287.5" x2="350.07" y2="284.9"/><line x1="350.07" y1="4.0" x2="350.07" y2="7.0"/><line x1="353.37" y1="287.5" x2="353.37" y2="284.9"/><line x1="353.37" y1="4.0" x2="353.37" y2="7.0"/><line x1="356.28" y1="287.5" x2="356.28" y2="284.9"/><line x1="356.28" y1="4.0" x2="356.28" y2="7.0"/><line x1="358.88" y1="287.5" x2="358.88" y2="282.7"/><line x1="358.88" y1="4.0" x2="358.88" y2="9.0"/><line x1="375.98" y1="287.5" x2="375.98" y2="284.9"/><line x1="375.98" y1="4.0" x2="375.98" y2="7.0"/><line x1="385.98" y1="287.5" x2="385.98" y2="284.9"/><line x1="385.98" y1="4.0" x2="385.98" y2="7.0"/><line x1="393.08" y1="287.5" x2="393.08" y2="284.9"/><line x1="393.08" y1="4.0" x2="393.08" y2="7.0"/><line x1="398.59" y1="287.5" x2="398.59" y2="284.9"/><line x1="398.59" y1="4.0" x2="398.59" y2="7.0"/><line x1="403.08" y1="287.5" x2="403.08" y2="284.9"/><line x1="403.08" y1="4.0" x2="403.08" y2="7.0"/><line x1="406.89" y1="287.5" x2="406.89" y2="284.9"/><line x1="406.89" y1="4.0" x2="406.89" y2="7.0"/><line x1="410.18" y1="287.5" x2="410.18" y2="284.9"/><line x1="410.18" y1="4.0" x2="410.18" y2="7.0"/><line x1="413.09" y1="287.5" x2="413.09" y2="284.9"/><line x1="413.09" y1="4.0" x2="413.09" y2="7.0"/><line x1="415.69" y1="287.5" x2="415.69" y2="282.7"/><line x1="415.69" y1="4.0" x2="415.69" y2="9.0"/><line x1="432.79" y1="287.5" x2="432.79" y2="284.9"/><line x1="432.79" y1="4.0" x2="432.79" y2="7.0"/><line x1="442.79" y1="287.5" x2="442.79" y2="284.9"/><line x1="442.79" y1="4.0" x2="442.79" y2="7.0"/><line x1="449.89" y1="287.5" x2="449.89" y2="284.9"/><line x1="449.89" y1="4.0" x2="449.89" y2="7.0"/><line x1="455.40" y1="287.5" x2="455.40" y2="284.9"/><line x1="455.40" y1="4.0" x2="455.40" y2="7.0"/><line x1="459.90" y1="287.5" x2="459.90" y2="284.9"/><line x1="459.90" y1="4.0" x2="459.90" y2="7.0"/><line x1="463.70" y1="287.5" x2="463.70" y2="284.9"/><line x1="463.70" y1="4.0" x2="463.70" y2="7.0"/><line x1="466.99" y1="287.5" x2="466.99" y2="284.9"/><line x1="466.99" y1="4.0" x2="466.99" y2="7.0"/><line x1="469.90" y1="287.5" x2="469.90" y2="284.9"/><line x1="469.90" y1="4.0" x2="469.90" y2="7.0"/><line x1="472.50" y1="287.5" x2="472.50" y2="282.7"/><line x1="472.50" y1="4.0" x2="472.50" y2="9.0"/></g>
<rect x="18.0" y="4.0" width="454.5" height="283.5" fill="none" stroke="#262626" stroke-width="1.3"/>
<g stroke="#4a4a4a" stroke-width="1.05"><line x1="22.70" y1="31.5" x2="231.90" y2="31.5"/><line x1="241.10" y1="31.5" x2="320.10" y2="31.5"/><line x1="329.40" y1="31.5" x2="467.90" y2="31.5"/></g>
<g fill="#151515"><path d="M18.70,31.5 Q22.90,29.60 26.50,29.15 L25.40,31.5 L26.50,33.85 Q22.90,33.40 18.70,31.5 Z"/><path d="M235.90,31.5 Q231.70,29.60 228.10,29.15 L229.20,31.5 L228.10,33.85 Q231.70,33.40 235.90,31.5 Z"/><path d="M237.10,31.5 Q241.30,29.60 244.90,29.15 L243.80,31.5 L244.90,33.85 Q241.30,33.40 237.10,31.5 Z"/><path d="M324.10,31.5 Q319.90,29.60 316.30,29.15 L317.40,31.5 L316.30,33.85 Q319.90,33.40 324.10,31.5 Z"/><path d="M325.40,31.5 Q329.60,29.60 333.20,29.15 L332.10,31.5 L333.20,33.85 Q329.60,33.40 325.40,31.5 Z"/><path d="M471.90,31.5 Q467.70,29.60 464.10,29.15 L465.20,31.5 L464.10,33.85 Q467.70,33.40 471.90,31.5 Z"/></g>
<g stroke="#333" stroke-width="1">
<line x1="17.6" y1="336.4" x2="472.5" y2="336.4"/>
<line x1="46.46" y1="336.4" x2="46.46" y2="330.9"/><line x1="107.80" y1="336.4" x2="107.80" y2="330.9"/><line x1="144.03" y1="336.4" x2="144.03" y2="330.9"/><line x1="192.04" y1="336.4" x2="192.04" y2="330.9"/><line x1="270.46" y1="336.4" x2="270.46" y2="330.9"/><line x1="371.48" y1="336.4" x2="371.48" y2="330.9"/><line x1="472.50" y1="336.4" x2="472.50" y2="330.9"/>
</g>
<text x="46.46" y="349.3" text-anchor="middle" class="pl">1 yr</text><text x="107.80" y="349.3" text-anchor="middle" class="pl">1 m</text><text x="144.03" y="349.3" text-anchor="middle" class="pl">1 w</text><text x="192.04" y="349.3" text-anchor="middle" class="pl">1 d</text><text x="270.46" y="349.3" text-anchor="middle" class="pl">1 hr</text><text x="371.48" y="349.3" text-anchor="middle" class="pl">1 min</text><text x="472.50" y="349.3" text-anchor="middle" class="pl">1 s</text>
<text x="18.20" y="303.9" text-anchor="middle" class="tl">10<tspan dy="-5.6" font-size="8.6">-8</tspan></text><text x="75.01" y="303.9" text-anchor="middle" class="tl">10<tspan dy="-5.6" font-size="8.6">-7</tspan></text><text x="131.82" y="303.9" text-anchor="middle" class="tl">10<tspan dy="-5.6" font-size="8.6">-6</tspan></text><text x="188.64" y="303.9" text-anchor="middle" class="tl">10<tspan dy="-5.6" font-size="8.6">-5</tspan></text><text x="245.45" y="303.9" text-anchor="middle" class="tl">10<tspan dy="-5.6" font-size="8.6">-4</tspan></text><text x="302.26" y="303.9" text-anchor="middle" class="tl">10<tspan dy="-5.6" font-size="8.6">-3</tspan></text><text x="359.07" y="303.9" text-anchor="middle" class="tl">10<tspan dy="-5.6" font-size="8.6">-2</tspan></text><text x="415.89" y="303.9" text-anchor="middle" class="tl">10<tspan dy="-5.6" font-size="8.6">-1</tspan></text><text x="472.70" y="303.9" text-anchor="middle" class="tl">10<tspan dy="-5.6" font-size="8.6">0</tspan></text>
<g stroke="#3a3a3a" stroke-width="1" fill="none">
<polyline points="417.3,213.2 446,184.5 475,184.5"/>
<polyline points="438.8,263.8 455.4,247.4 475,247.4"/>
</g>
<text x="127" y="26" text-anchor="middle" class="lab">Macro-Meteorology</text>
<text x="280.7" y="26" text-anchor="middle" class="lab">Spectral Gap</text>
<text x="398.6" y="26" text-anchor="middle" class="lab">Micro-Meteorology</text>
<text x="55" y="159.6" text-anchor="middle" class="lab">Seasonal peak</text>
<text x="157.1" y="109.7" text-anchor="middle" class="lab">Synoptic peak</text>
<text x="201.8" y="171.6" text-anchor="middle" class="lab">Diurnal peak</text>
<text x="368.7" y="175.2" text-anchor="middle" class="lab">Turbulence peak</text>
<text x="510.4" y="181.6" text-anchor="middle" class="lab">Strong signature</text>
<text x="511.4" y="195.5" text-anchor="middle" class="lab">turbulence</text>
<text x="510.4" y="243.6" text-anchor="middle" class="lab">Mild signature</text>
<text x="511.4" y="257" text-anchor="middle" class="lab">turbulence</text>
<rect x="495.3" y="202.2" width="32.6" height="8.0" fill="#525252"/>
<polygon points="487.8,266.2 494.7,262.2 527.8,262.2 535.4,266.2 527.8,270.3 494.7,270.3" fill="#525252"/>
<text x="244.8" y="319.1" text-anchor="middle" class="lab" style="font-size:12.5px">Frequency [Hz]</text>
<text x="243.4" y="364.2" text-anchor="middle" class="lab" style="font-size:12.6px">Period [s]</text>
<text transform="translate(11.4,145) rotate(-90)" text-anchor="middle" class="lab" style="font-size:12.5px">Power Spectrum</text>
</svg>
</body></html>
